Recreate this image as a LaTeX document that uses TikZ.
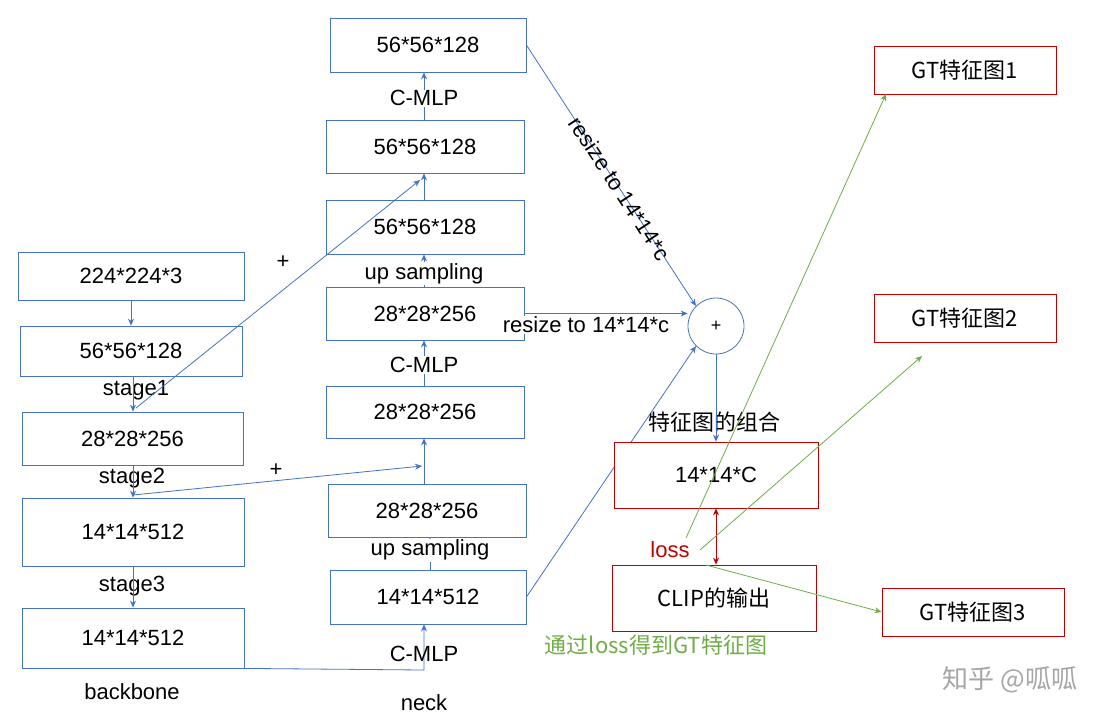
\documentclass[tikz,border=0pt]{standalone}
\usepackage{fontspec}
\setmainfont{Liberation Sans}
\newfontfamily\cjk{Noto Sans CJK SC}
\usetikzlibrary{arrows.meta}
\definecolor{bl}{HTML}{4472C4}
\definecolor{rd}{HTML}{C00000}
\definecolor{gr}{HTML}{70AD47}
\begin{document}
\begin{tikzpicture}[x=1pt,y=-1pt,
 box/.style={draw=bl,thick,fill=white,font=\fontsize{22}{26}\selectfont,inner sep=0},
 rbox/.style={draw=rd,thick,fill=white,font=\fontsize{22}{26}\selectfont\cjk,inner sep=0},
 lab/.style={font=\fontsize{22}{26}\selectfont,inner sep=1pt,text=black},
 arr/.style={bl,thick,-{Stealth[length=7pt,width=6pt]}},
 garr/.style={gr,thick,-{Stealth[length=7pt,width=6pt]}}]
\useasboundingbox (0,0) rectangle (1118,724);
\fill[white] (0,0) rectangle (1118,724);
% left column
\node[box,minimum width=226,minimum height=48] (a1) at (131,276) {224*224*3};
\node[box,minimum width=222,minimum height=50] (a2) at (131,351) {56*56*128};
\node[box,minimum width=221,minimum height=53] (a3) at (132.5,438.5) {28*28*256};
\node[box,minimum width=222,minimum height=68] (a4) at (133,532) {14*14*512};
\node[box,minimum width=222,minimum height=60] (a5) at (133,638) {14*14*512};
\node[lab] (s1) at (136,390) {stage1};
\node[lab] (s2) at (132,478) {stage2};
\node[lab] (s3) at (132,586) {stage3};
\node[lab] (bb) at (132,692) {backbone};
% middle column
\node[box,minimum width=196,minimum height=54] (m1) at (428,45) {56*56*128};
\node[box,minimum width=198,minimum height=53] (m2) at (425,146.5) {56*56*128};
\node[box,minimum width=198,minimum height=54] (m3) at (425,227) {56*56*128};
\node[box,minimum width=198,minimum height=53] (m4) at (425,313.5) {28*28*256};
\node[box,minimum width=198,minimum height=52] (m5) at (425,412) {28*28*256};
\node[box,minimum width=198,minimum height=53] (m6) at (427,510.5) {28*28*256};
\node[box,minimum width=196,minimum height=54] (m7) at (428,597) {14*14*512};
% arrows left
\draw[arr] (a1.south) -- (a2.north);
\draw[arr] (a2.south -| 133,0) -- (a3.north -| 133,0);
\draw[arr] (a3.south -| 133,0) -- (a4.north -| 133,0);
\draw[arr] (a4.south -| 133,0) -- (a5.north -| 133,0);
% middle vertical
\draw[arr] (m7.north -| 430,0) -- node[lab,fill=white,pos=.6]{up sampling} (m6.south -| 430,0);
\draw[arr] (m6.north -| 424,0) -- (m5.south -| 424,0);
\draw[arr] (m5.north -| 424,0) -- node[lab,fill=white,pos=.45]{C-MLP} (m4.south -| 424,0);
\draw[arr] (m4.north -| 424,0) -- node[lab,fill=white,pos=.4]{up sampling} (m3.south -| 424,0);
\draw[arr] (m3.north -| 424,0) -- (m2.south -| 424,0);
\draw[arr] (m2.north -| 424,0) -- node[lab,fill=white,pos=.45]{C-MLP} (m1.south -| 424,0);
\coordinate (b1) at (136,408);
\coordinate (t1) at (420,180);
\coordinate (b2) at (133,495);
\coordinate (t2) at (422,466);
\draw[arr] (b1) -- (t1);
\draw[arr] (b2) -- (t2);
\node[lab] (p1) at (283,262) {+};
\node[lab] (p2) at (276,470) {+};
\draw[arr] (a5.south east) -- (424,670) -- (m7.south -| 424,0);
\node[lab] (cm) at (424,654) {C-MLP};
\node[lab] (nk) at (424,703) {neck};
% circle
\node[draw=bl,thick,circle,minimum size=56,inner sep=0,font=\fontsize{18}{20}\selectfont] (c) at (716,326) {+};
\draw[arr] (m1.east) -- node[lab,sloped,pos=.55]{resize to 14*14*c} (c.north west);
\draw[arr] (m4.east) -- (c.west |- m4.east);
\node[lab,fill=white] (rs) at (586,325) {resize to 14*14*c};
\draw[arr] (m7.east) -- (c.south west);
\node[lab,font=\fontsize{22}{26}\selectfont\cjk] (zh) at (714,422) {特征图的组合};
\node[rbox,font=\fontsize{22}{26}\selectfont,minimum width=204,minimum height=66] (f) at (716,475) {14*14*C};
\node[rbox,minimum width=204,minimum height=66] (clip) at (714,598) {CLIP的输出};
\draw[arr] (c.south) -- (f.north -| c.south);
\draw[rd,thick,{Stealth[length=7pt,width=6pt]}-{Stealth[length=7pt,width=6pt]}] (f.south -| 716,0) -- (clip.north -| 716,0);
\node[rd,font=\fontsize{22}{26}\selectfont] (ls) at (670,550) {loss};
\node[gr,font=\fontsize{22}{26}\selectfont\cjk] (tg) at (656,645) {通过loss得到GT特征图};
\node[rbox,minimum width=182,minimum height=48] (g1) at (965,70) {GT特征图1};
\node[rbox,minimum width=182,minimum height=48] (g2) at (965,318) {GT特征图2};
\node[rbox,minimum width=182,minimum height=48] (g3) at (973,612) {GT特征图3};
\coordinate (s1a) at (686,538);
\coordinate (s2a) at (700,550);
\coordinate (s3a) at (706,565);
\coordinate (e2) at (922,356);
\draw[garr] (s1a) -- (886,94);
\draw[garr] (s2a) -- (e2);
\draw[garr] (s3a) -- (g3.west);
\node[gray!70,font=\fontsize{26}{30}\selectfont\cjk] (wm) at (1010,680) {知乎 @呱呱};
\end{tikzpicture}
\end{document}
